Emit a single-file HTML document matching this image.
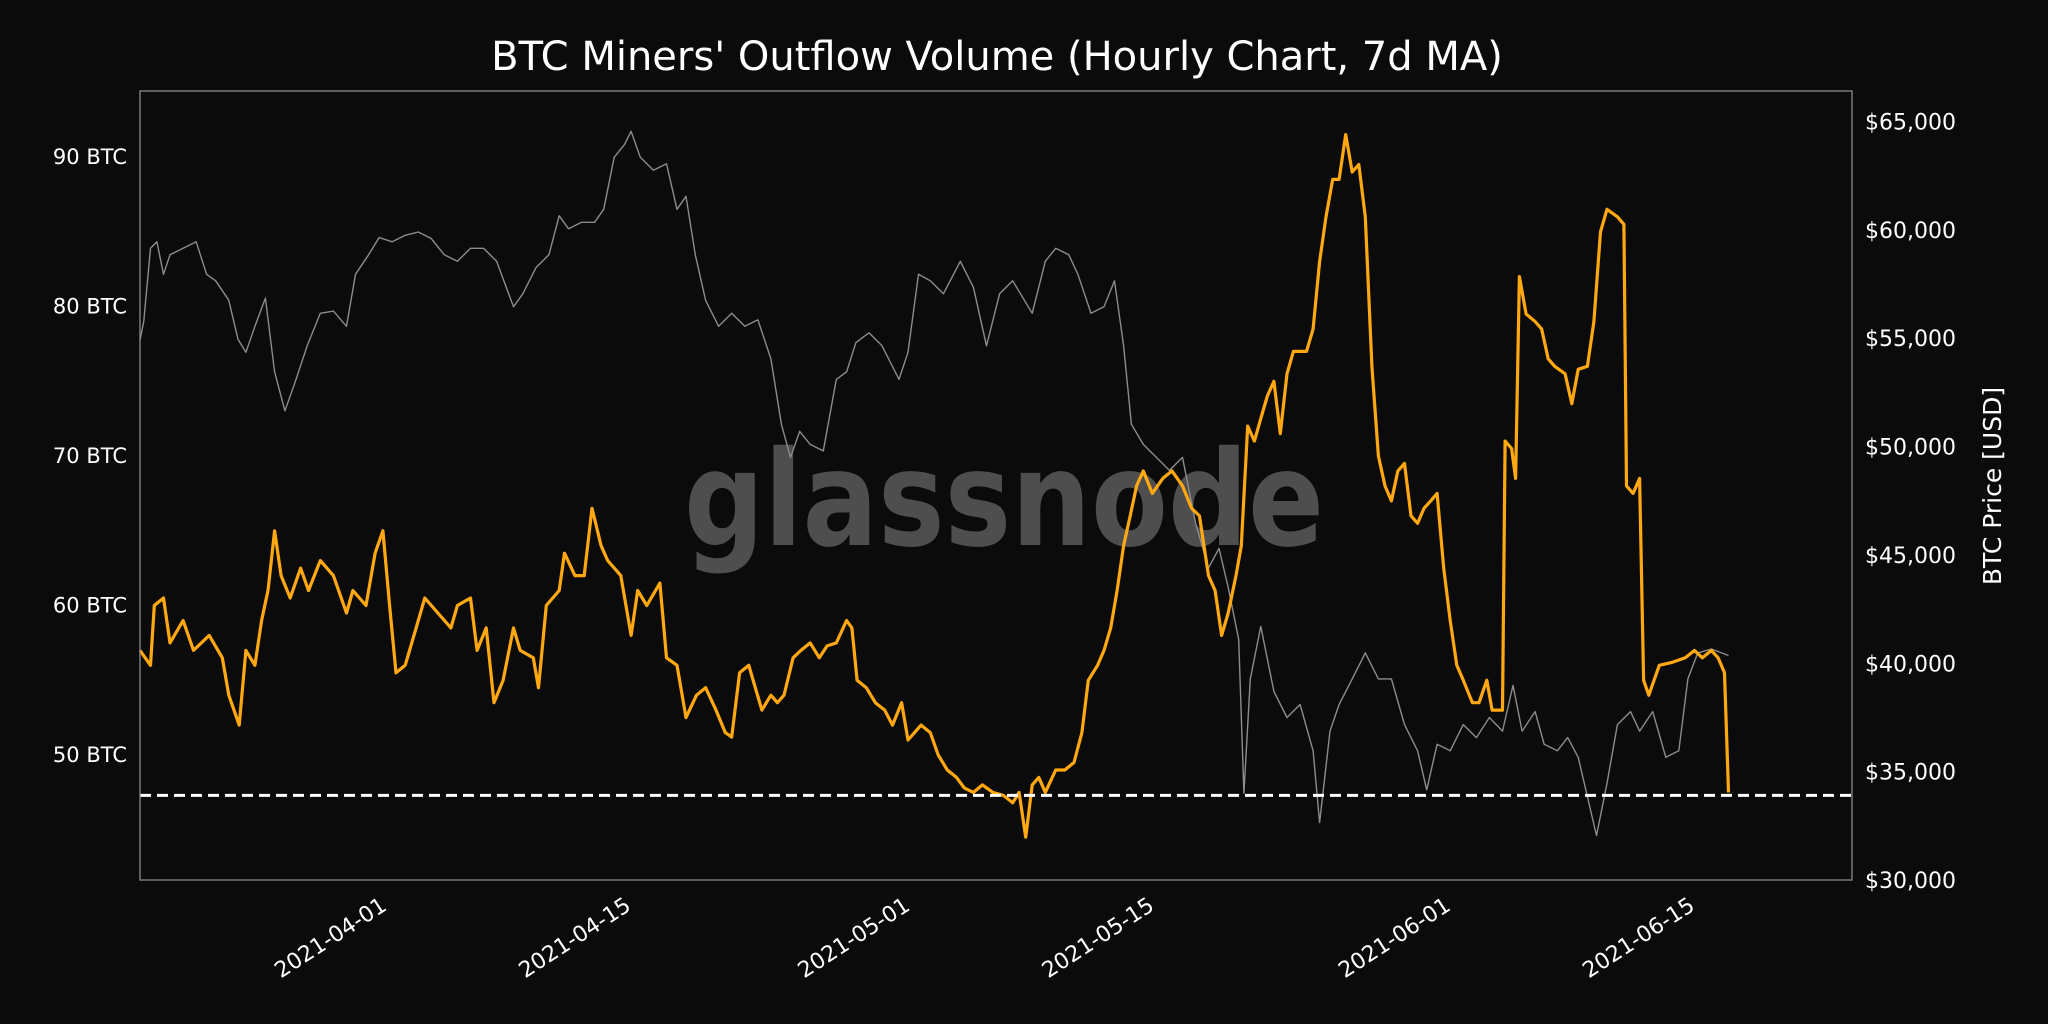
<!DOCTYPE html>
<html><head><meta charset="utf-8"><style>
html,body{margin:0;padding:0;background:#0b0b0b;}
svg{display:block;}
text{font-family:"DejaVu Sans","Liberation Sans",sans-serif;fill:#fff;}
</style></head><body>
<svg id="chart" width="2048" height="1024" viewBox="0 0 2048 1024" xmlns="http://www.w3.org/2000/svg">
<rect x="0" y="0" width="2048" height="1024" fill="#0b0b0b"/>
<text x="997" y="70" font-size="40" text-anchor="middle">BTC Miners' Outflow Volume (Hourly Chart, 7d MA)</text>
<text x="1004" y="545" font-size="132" font-weight="bold" text-anchor="middle" textLength="640" lengthAdjust="spacingAndGlyphs" style="fill:#5a5a5a;font-family:'DejaVu Sans',sans-serif" opacity="0.85">glassnode</text>
<g id="plot"></g>
<rect x="140" y="91" width="1712" height="789" fill="none" stroke="#8a8a8a" stroke-width="1.3"/>
<text transform="translate(2001,486) rotate(-90)" font-size="25" text-anchor="middle">BTC Price [USD]</text>
</svg>
<script>
// ---- data ----
const volDays=[0,0.6,0.82,1.35,1.72,2.47,3.07,3.97,4.72,5.09,5.69,6.07,6.59,6.97,7.34,7.72,8.09,8.61,9.21,9.66,10.34,11.09,11.84,12.21,12.96,13.48,13.93,14.31,14.68,15.21,15.96,16.33,17.08,17.83,18.2,18.95,19.33,19.85,20.3,20.82,21.42,21.8,22.55,22.85,23.3,24.04,24.34,24.94,25.47,25.92,26.44,26.82,27.57,28.16,28.54,29.06,29.81,30.19,30.79,31.31,31.91,32.43,33.03,33.56,33.93,34.38,34.91,35.28,35.66,36.18,36.55,36.93,37.45,37.9,38.43,38.95,39.4,39.93,40.52,40.82,41.12,41.65,42.17,42.7,43.15,43.67,44.04,44.79,45.32,45.77,46.29,46.82,47.27,47.79,48.31,48.91,49.51,50.04,50.41,50.79,51.16,51.54,51.91,52.51,53.03,53.56,54.01,54.38,54.91,55.28,55.66,56.03,56.4,56.78,57.15,57.53,58.05,58.65,59.18,59.78,60.3,60.75,61.27,61.65,62.02,62.4,62.85,63.15,63.52,63.9,64.27,64.64,65.02,65.39,65.77,66.14,66.89,67.27,67.64,68.01,68.39,68.76,69.14,69.51,69.89,70.26,70.64,71.01,71.39,71.76,72.13,72.51,72.88,73.26,73.63,74.01,74.38,74.76,75.13,75.51,75.88,76.4,76.78,77.23,77.53,77.75,78.13,78.28,78.65,78.88,79.1,79.48,80.0,80.37,80.75,81.12,81.72,82.1,82.47,83.0,83.37,83.75,84.12,84.72,85.09,85.24,85.62,85.99,86.22,86.52,87.12,87.87,88.61,89.14,89.59,90.11,90.49,90.86,91.09];
const volBTC=[57,56,60,60.5,57.5,59,57,58,56.5,54,52,57,56,59,61,65,62,60.5,62.5,61,63,62,59.5,61,60,63.5,65,60,55.5,56,59,60.5,59.5,58.5,60,60.5,57,58.5,53.5,55,58.5,57,56.5,54.5,60,61,63.5,62,62,66.5,64,63,62,58,61,60,61.5,56.5,56,52.5,54,54.5,53,51.5,51.2,55.5,56,54.5,53,54,53.5,54,56.5,57,57.5,56.5,57.3,57.5,59,58.5,55,54.5,53.5,53,52,53.5,51,52,51.5,50,49,48.5,47.8,47.5,48,47.5,47.3,46.8,47.5,44.5,48,48.5,47.5,49,49,49.5,51.5,55,56,57,58.5,61,64,66,68,69,67.5,68.5,69,68,66.5,66,62,61,58,59.5,62,64,72,71,72.5,74,75,71.5,75.5,77,77,78.5,83,86,88.5,88.5,91.5,89,89.5,86,76,70,68,67,69,69.5,66,65.5,66.5,67,67.5,62.5,59,56,55,53.5,53.5,55,53,53,53,71,70.5,68.5,82,79.5,79,78.5,76.5,76,75.5,73.5,75.8,76,79,85,86.5,86,85.5,68,67.5,68.5,55,54,56,56.2,56.5,57,56.5,57,56.5,55.5,47.5];
const priceDays=[0,0.22,0.6,0.97,1.35,1.72,2.47,3.22,3.82,4.34,5.09,5.62,6.07,6.59,7.19,7.72,8.31,8.84,9.59,10.34,11.09,11.84,12.36,13.11,13.71,14.46,15.21,15.96,16.7,17.45,18.2,18.95,19.7,20.45,21.42,21.95,22.7,23.45,24.04,24.57,25.32,26.07,26.59,27.19,27.79,28.16,28.69,29.44,30.19,30.79,31.31,31.84,32.43,33.18,33.93,34.68,35.43,36.18,36.78,37.3,37.83,38.43,39.18,39.93,40.52,41.05,41.8,42.55,43.52,44.04,44.64,45.32,46.07,47.04,47.79,48.54,49.29,50.04,51.16,51.91,52.51,53.26,53.78,54.53,55.28,55.88,56.4,56.85,57.53,58.28,59.03,59.78,60.52,61.27,61.87,62.4,63.0,63.3,63.67,64.27,65.02,65.77,66.52,67.27,67.64,68.24,68.76,69.51,70.26,71.01,71.76,72.51,73.26,73.78,74.38,75.13,75.88,76.63,77.38,78.13,78.73,79.25,80.0,80.52,81.27,81.87,82.47,83.0,83.52,84.12,84.72,85.47,85.99,86.74,87.49,88.24,88.76,89.33,90.11,91.09];
const priceUSD=[54900,55800,59150,59450,57950,58850,59150,59450,57950,57650,56750,54950,54350,55550,56850,53450,51650,52850,54650,56150,56250,55550,57950,58850,59650,59450,59750,59900,59600,58850,58550,59150,59150,58550,56450,57050,58250,58850,60650,60050,60350,60350,60950,63350,63950,64550,63350,62750,63050,60950,61550,58850,56750,55550,56150,55550,55850,54050,51030,49500,50700,50100,49800,53100,53450,54800,55250,54650,53100,54350,57950,57650,57050,58550,57350,54650,57050,57650,56150,58550,59150,58850,57950,56150,56450,57650,54650,51030,50100,49500,48900,49500,46500,44400,45300,43500,41100,34000,39280,41700,38700,37500,38100,35960,32650,36870,38100,39280,40480,39280,39280,37170,35960,34160,36260,35960,37170,36570,37500,36870,38980,36870,37770,36260,35960,36570,35660,33850,32050,34460,37170,37770,36870,37770,35660,35960,39280,40480,40660,40360];
const leftTicks=[50,60,70,80,90];
const leftTickLabels=["50 BTC","60 BTC","70 BTC","80 BTC","90 BTC"];
const rightTicks=[30000,35000,40000,45000,50000,55000,60000,65000];
const rightTickLabels=["$30,000","$35,000","$40,000","$45,000","$50,000","$55,000","$60,000","$65,000"];
const xTickDays=[14,28,44,58,75,89];
const xTickLabels=["2021-04-01","2021-04-15","2021-05-01","2021-05-15","2021-06-01","2021-06-15"];
const thresholdBTC=[47.3];

// ---- axes ----
const X0=140,X1=1852,Y0=91,Y1=880;
const xScale=d=>X0+d/98.17*(X1-X0);
const yLeft=v=>755-(v-50)*14.95;
const yRight=p=>880-(p-30000)*0.021671;
const NS="http://www.w3.org/2000/svg";
const svg=document.getElementById('chart');
const plot=document.getElementById('plot');
function mk(tag,attrs,parent){const e=document.createElementNS(NS,tag);for(const k in attrs)e.setAttribute(k,attrs[k]);(parent||svg).appendChild(e);return e;}

let d1=priceDays.map((d,i)=>(i?'L':'M')+xScale(d).toFixed(1)+','+yRight(priceUSD[i]).toFixed(1)).join('');
const pl=mk('path',{d:d1,fill:'none',stroke:'#8c8c8c','stroke-width':1.4,'stroke-linejoin':'round'},plot);



let d2=volDays.map((d,i)=>(i?'L':'M')+xScale(d).toFixed(1)+','+yLeft(volBTC[i]).toFixed(1)).join('');
const vl=mk('path',{d:d2,fill:'none',stroke:'#ffa811','stroke-width':3.2,'stroke-linejoin':'round'},plot);



const th=mk('line',{x1:X0,x2:X1,y1:yLeft(thresholdBTC[0]),y2:yLeft(thresholdBTC[0]),stroke:'#fff','stroke-width':3,'stroke-dasharray':'11 6'},plot);



leftTicks.forEach((v,i)=>{
  const t=mk('text',{x:127,y:yLeft(v)+7,'font-size':21,'text-anchor':'end'});
  t.textContent=leftTickLabels[i];
  
  
});
rightTicks.forEach((v,i)=>{
  const t=mk('text',{x:1865,y:yRight(v)+8,'font-size':22,'text-anchor':'start'});
  t.textContent=rightTickLabels[i];
  
  
});
xTickDays.forEach((d,i)=>{
  const x=xScale(d);
  const t=mk('text',{transform:'translate('+(x+4)+',909) rotate(-33)','font-size':22,'text-anchor':'end'});
  t.textContent=xTickLabels[i];
  
  
});
</script>
</body></html>
